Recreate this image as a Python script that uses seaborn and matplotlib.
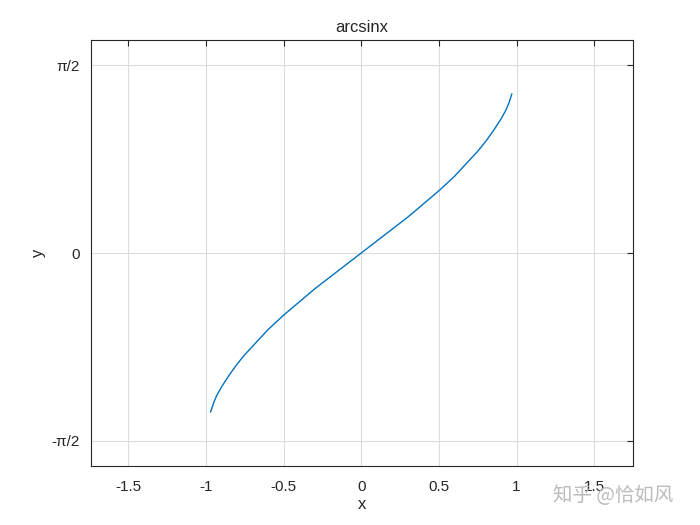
import numpy as np
import matplotlib
matplotlib.use('Agg')
import matplotlib.pyplot as plt
import seaborn as sns

# values
x_vals = [-0.97, -0.96, -0.95, -0.93, -0.9, -0.87, -0.85, -0.8, -0.75, -0.7, -0.6, -0.5, -0.4,
          -0.3, -0.2, -0.1, 0.0, 0.1, 0.2, 0.3, 0.4, 0.5, 0.6, 0.7, 0.75, 0.8, 0.85, 0.87,
          0.9, 0.93, 0.95, 0.96, 0.97]
y_vals = [-1.33, -1.29, -1.25, -1.19, -1.12, -1.06, -1.02, -0.93, -0.85, -0.78, -0.64, -0.52,
          -0.41, -0.30, -0.20, -0.10, 0.0, 0.10, 0.20, 0.30, 0.41, 0.52, 0.64, 0.78, 0.85,
          0.93, 1.02, 1.06, 1.12, 1.19, 1.25, 1.29, 1.33]
x_ticks = [-1.5, -1, -0.5, 0, 0.5, 1, 1.5]
x_tick_labels = ['-1.5', '-1', '-0.5', '0', '0.5', '1', '1.5']
y_ticks = [-np.pi / 2, 0, np.pi / 2]
y_tick_labels = ['-π/2', '0', 'π/2']

sns.set_style('white')
plt.rcParams['font.family'] = ['Liberation Sans', 'Noto Sans CJK SC', 'DejaVu Sans']

fig = plt.figure(figsize=(7, 5.25), dpi=100)
ax = fig.add_axes([91 / 700, 1 - 466 / 525, 542 / 700, 426 / 525])
sns.lineplot(x=x_vals, y=y_vals, ax=ax, color='#0072BD', linewidth=1, sort=False)

ax.set_xlim(-1.74, 1.75)
ax.set_ylim(-1.78, 1.78)
ax.set_xticks(x_ticks, x_tick_labels)
ax.set_yticks(y_ticks, y_tick_labels)
ax.grid(True, color='#dcdcdc', linewidth=0.8)
ax.tick_params(direction='in', top=True, right=True, length=4, labelsize=11, color='#262626')
ax.tick_params(axis='x', pad=10)
ax.tick_params(axis='y', pad=8)
for s in ax.spines.values():
    s.set_color('#262626')
    s.set_linewidth(0.8)
ax.set_title('arcsinx', fontsize=12)
ax.set_xlabel('x', fontsize=12, labelpad=2)
ax.set_ylabel('y', fontsize=12)

fig.text(0.79, 0.045, '知乎 @恰如风', fontsize=14, color='#bbbbbb',
         family=['Noto Sans CJK SC', 'DejaVu Sans'])

fig.savefig('out.png', dpi=100)
